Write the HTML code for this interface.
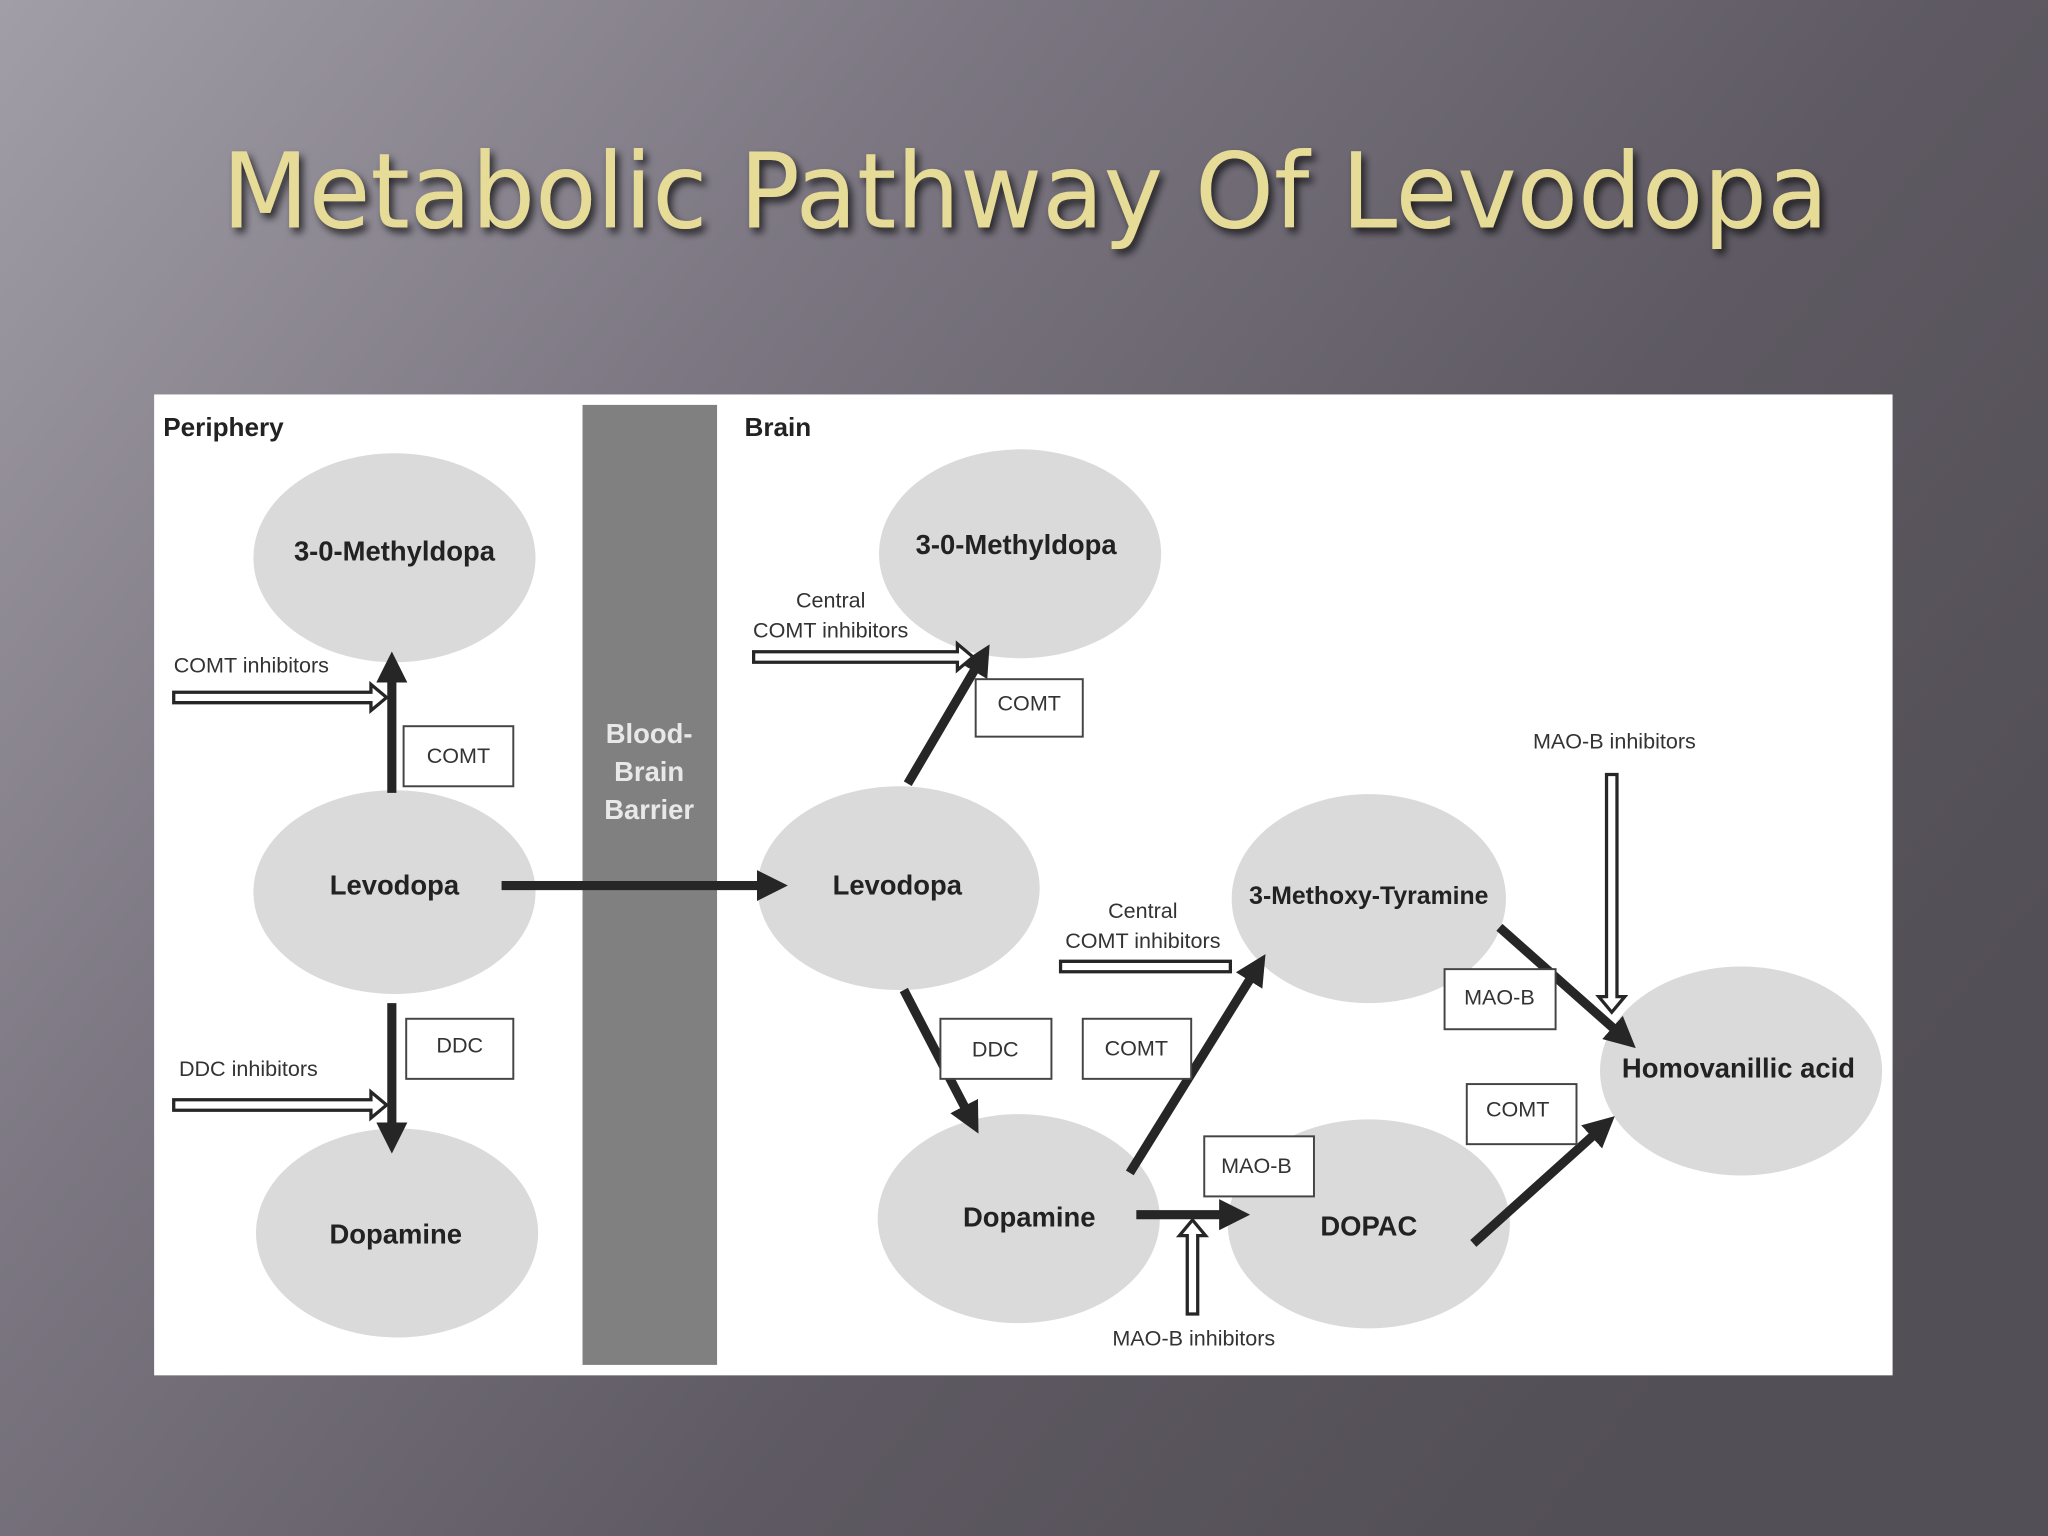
<!DOCTYPE html>
<html><head><meta charset="utf-8"><style>
html,body{margin:0;padding:0;width:2048px;height:1536px;overflow:hidden}
svg{display:block}
text{font-family:"Liberation Sans",Arial,sans-serif}
</style></head><body>
<svg width="2048" height="1536" viewBox="0 0 1568 1176" preserveAspectRatio="none" xmlns="http://www.w3.org/2000/svg">
<defs>
<linearGradient id="bg" x1="0" y1="0" x2="1" y2="0.6">
<stop offset="0" stop-color="#a29ea7"/><stop offset="0.35" stop-color="#7c7782"/><stop offset="0.7" stop-color="#5e5962"/><stop offset="1" stop-color="#534f56"/>
</linearGradient>
<marker id="ah" markerWidth="3.4" markerHeight="3.4" refX="1.8" refY="1.7" orient="auto" markerUnits="strokeWidth">
<path d="M0,0 L3.4,1.7 L0,3.4 z" fill="#262626"/></marker>
<filter id="sh"><feDropShadow dx="3" dy="4" stdDeviation="3" flood-color="#000" flood-opacity="0.7"/></filter>
</defs>
<rect width="1568" height="1176" fill="url(#bg)"/>
<text x="785" y="174" text-anchor="middle" font-size="80" fill="#e6dc98" filter="url(#sh)" style="font-family:'DejaVu Sans',sans-serif" textLength="1230" lengthAdjust="spacingAndGlyphs">Metabolic Pathway Of Levodopa</text>
<rect x="118" y="302" width="1331" height="751" fill="#fff"/>
<rect x="446" y="310" width="103" height="735" fill="#808080"/>
<g font-weight="bold" font-size="21" fill="#e8e8e8" text-anchor="middle">
<text x="497" y="569">Blood-</text><text x="497" y="598">Brain</text><text x="497" y="627">Barrier</text></g>
<g font-weight="bold" font-size="20" fill="#222"><text x="125" y="334">Periphery</text><text x="570" y="334">Brain</text></g>
<g fill="#dadada">
<ellipse cx="302" cy="427" rx="108" ry="80"/><ellipse cx="302" cy="683" rx="108" ry="78"/><ellipse cx="304" cy="944" rx="108" ry="80"/>
<ellipse cx="781" cy="424" rx="108" ry="80"/><ellipse cx="688" cy="680" rx="108" ry="78"/><ellipse cx="780" cy="933" rx="108" ry="80"/>
<ellipse cx="1048" cy="688" rx="105" ry="80"/><ellipse cx="1048" cy="937" rx="108" ry="80"/><ellipse cx="1333" cy="820" rx="108" ry="80"/>
</g>
<g font-weight="bold" font-size="21" fill="#222" text-anchor="middle">
<text x="302" y="429">3-0-Methyldopa</text><text x="302" y="685">Levodopa</text><text x="303" y="952">Dopamine</text>
<text x="778" y="424">3-0-Methyldopa</text><text x="687" y="685">Levodopa</text><text x="788" y="939">Dopamine</text>
<text x="1048" y="692" font-size="19">3-Methoxy-Tyramine</text><text x="1048" y="946">DOPAC</text><text x="1331" y="825">Homovanillic acid</text>
</g>
<g stroke="#262626" stroke-width="7" marker-end="url(#ah)" fill="none">
<line x1="300" y1="607" x2="300" y2="510"/>
<line x1="300" y1="768" x2="300" y2="872"/>
<line x1="384" y1="678" x2="592" y2="678"/>
<line x1="695" y1="600" x2="752" y2="503"/>
<line x1="692" y1="758" x2="744" y2="858"/>
<line x1="865" y1="898" x2="963" y2="740"/>
<line x1="870" y1="930" x2="946" y2="930"/>
<line x1="1148" y1="710" x2="1244" y2="795"/>
<line x1="1128" y1="952" x2="1228" y2="862"/>
</g>
<g fill="#fff" stroke="#262626" stroke-width="2.5">
<path d="M133,530 H284 V524 L296,534 L284,544 V538 H133 Z"/>
<path d="M133,842 H284 V836 L296,846 L284,856 V850 H133 Z"/>
<path d="M577,499 H733 V493 L745,503 L733,513 V507 H577 Z"/>
<path d="M812,736 H942 V744 H812 Z"/>
<path d="M1230,593 H1238 V763 H1244 L1234,775 L1224,763 H1230 Z"/>
<path d="M909,1006 V946 H903 L913,934 L923,946 H917 V1006 Z"/>
</g>
<g fill="#fff" stroke="#444" stroke-width="1.5">
<rect x="309" y="556" width="84" height="46"/><rect x="311" y="780" width="82" height="46"/>
<rect x="747" y="520" width="82" height="44"/><rect x="720" y="780" width="85" height="46"/>
<rect x="829" y="780" width="83" height="46"/><rect x="1106" y="742" width="85" height="46"/>
<rect x="1123" y="830" width="84" height="46"/><rect x="922" y="870" width="84" height="46"/>
</g>
<g font-size="16.5" fill="#333" text-anchor="middle">
<text x="351" y="584">COMT</text><text x="352" y="806">DDC</text><text x="788" y="544">COMT</text>
<text x="762" y="809">DDC</text><text x="870" y="808">COMT</text><text x="1148" y="769">MAO-B</text>
<text x="1162" y="855">COMT</text><text x="962" y="898">MAO-B</text>
<text x="133" y="515" text-anchor="start">COMT inhibitors</text><text x="137" y="824" text-anchor="start">DDC inhibitors</text>
<text x="636" y="465">Central</text><text x="636" y="488">COMT inhibitors</text>
<text x="875" y="703">Central</text><text x="875" y="726">COMT inhibitors</text>
<text x="1236" y="573">MAO-B inhibitors</text><text x="914" y="1030">MAO-B inhibitors</text>
</g>
</svg>
</body></html>
